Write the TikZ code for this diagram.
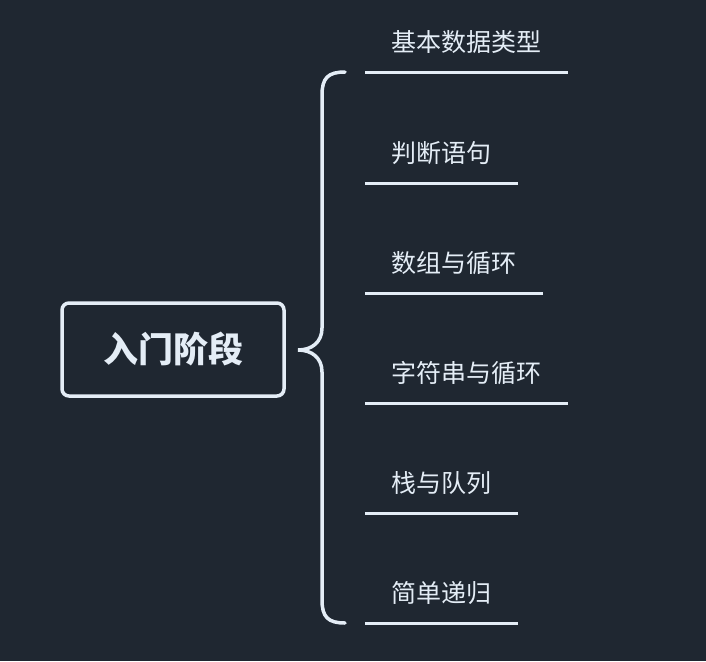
\documentclass[tikz,border=0pt]{standalone}
\usepackage{fontspec}
\newfontfamily\cjk{Noto Sans CJK SC}
\usetikzlibrary{positioning}
\definecolor{bgcol}{HTML}{1F2731}
\definecolor{linecol}{HTML}{E4EDF6}
\begin{document}
\begin{tikzpicture}[x=1pt, y=-1pt,
    rootbox/.style={draw=linecol, line width=3.5pt, rounded corners=7pt, minimum width=222pt, minimum height=93pt, text=linecol, font=\cjk\fontsize{35}{40}\selectfont\bfseries},
    leaf/.style={anchor=west, inner sep=0pt, text=linecol, font=\cjk\fontsize{25}{30}\selectfont},
    underline/.style={draw=linecol, line width=3pt},
    bracket/.style={draw=linecol, line width=3.5pt, line cap=round}
]
    % background
    \fill[bgcol] (0,0) rectangle (706,661);
    \useasboundingbox (0,0) rectangle (706,661);

    % root
    \node[rootbox] (root) at (173,349.5) {入门阶段};
    \coordinate (tip) at (298,350);

    % brace
    \draw[bracket] (345,72) .. controls (328,72) and (322,78) .. (322,95)
        -- (322,328) .. controls (322,342) and (312,350) .. (tip)
        .. controls (312,350) and (322,358) .. (322,372)
        -- (322,600) .. controls (322,617) and (328,623) .. (345,623);

    % children
    \foreach \txt/\y/\w [count=\i] in {基本数据类型/72/203, 判断语句/183/153, 数组与循环/293/178,
        字符串与循环/403/203, 栈与队列/513/153, 简单递归/623/153} {
        \node[leaf] (c\i) at (391,\y-30) {\txt};
        \draw[underline] (365,\y) -- ++(\w,0);
    }
\end{tikzpicture}
\end{document}
